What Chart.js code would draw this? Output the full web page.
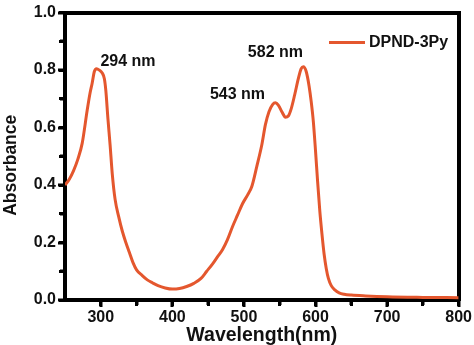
<!DOCTYPE html>
<html>
<head>
<meta charset="utf-8">
<script src="https://cdn.jsdelivr.net/npm/chart.js@4/dist/chart.umd.min.js"></script>
<style>
html,body{margin:0;padding:0;background:#fff;}
#wrap{position:relative;width:474px;height:345px;}
</style>
</head>
<body>
<div id="wrap"><canvas id="c" width="474" height="345"></canvas></div>
<script>
// ---- data ----
const wavelength = [250,256,262,268,274,281,285,288,291,294,298,302,305,307,310,313,316,320,325,330,335,340,345,350,358,365,372,380,390,400,410,420,430,440,448,456,463,470,477,484,491,498,505,511,518,525,530,535,540,544,548,553,558,562,566,571,576,580,583,587,591,594,597,600,603,606,609,612,615,618,622,627,633,640,650,670,700,750,800];
const absorbance = [0.40,0.42,0.45,0.49,0.545,0.66,0.72,0.755,0.795,0.805,0.80,0.79,0.77,0.73,0.63,0.54,0.44,0.35,0.29,0.24,0.20,0.165,0.13,0.105,0.085,0.07,0.06,0.05,0.042,0.038,0.04,0.047,0.058,0.075,0.10,0.125,0.15,0.175,0.21,0.255,0.295,0.335,0.365,0.395,0.465,0.54,0.61,0.655,0.68,0.686,0.678,0.655,0.636,0.64,0.665,0.715,0.77,0.805,0.812,0.795,0.745,0.69,0.62,0.52,0.41,0.31,0.23,0.16,0.11,0.075,0.05,0.035,0.025,0.02,0.017,0.014,0.011,0.009,0.008];
const seriesName = 'DPND-3Py';
const xTicks = [300,350,400,450,500,550,600,650,700,750,800];
const xTickLabels = ['300','','400','','500','','600','','700','','800'];
const yTicks = [0.0,0.1,0.2,0.3,0.4,0.5,0.6,0.7,0.8,0.9,1.0];
const yTickLabels = ['0.0','','0.2','','0.4','','0.6','','0.8','','1.0'];
const peakLabels = ['294 nm','543 nm','582 nm'];
const peakLabelX = [338,491,544];
const peakLabelY = [0.83,0.715,0.862];
const xTitle = 'Wavelength(nm)';
const yTitle = 'Absorbance';

const lineColor = '#E4572E';
const FONT = '"Liberation Sans", Arial, sans-serif';

const textPlugin = {
  id: 'texts',
  afterDraw(chart) {
    const {ctx, chartArea: a, scales: {x, y}} = chart;
    ctx.save();
    // tick marks drawn from the scales
    ctx.fillStyle = '#000';
    xTicks.forEach((v, i) => {
      const px = Math.round(x.getPixelForValue(v));
      ctx.fillRect(px - 1.5, a.bottom, 3, xTickLabels[i] ? 7 : 5);
    });
    yTicks.forEach((v, i) => {
      const py = Math.round(y.getPixelForValue(v));
      ctx.fillRect(a.left - (yTickLabels[i] ? 7 : 5), py - 1.5, yTickLabels[i] ? 7 : 5, 3);
    });
    // legend
    ctx.fillStyle = lineColor;
    ctx.fillRect(329, 41, 36, 3);
    ctx.fillStyle = '#111';
    ctx.font = 'bold 16px ' + FONT;
    ctx.textAlign = 'left';
    ctx.textBaseline = 'middle';
    ctx.fillText(seriesName, 369, 43);
    // peak labels
    ctx.textAlign = 'center';
    peakLabels.forEach((t, i) => ctx.fillText(t, x.getPixelForValue(peakLabelX[i]), y.getPixelForValue(peakLabelY[i])));
    // axis titles
    ctx.font = 'bold 19.5px ' + FONT;
    ctx.fillText(xTitle, (a.left + a.right) / 2, 336);
    ctx.translate(11, (a.top + a.bottom) / 2 + 9);
    ctx.rotate(-Math.PI / 2);
    ctx.font = 'bold 17.5px ' + FONT;
    ctx.fillText(yTitle, 0, 0);
    ctx.restore();
  }
};

const tickFont = {family: FONT, size: 16, weight: 'bold'};
const gridCommon = {drawOnChartArea: false, tickLength: 6, tickWidth: 3, tickColor: '#000'};
const borderCommon = {display: true, width: 4, color: '#000'};

new Chart(document.getElementById('c'), {
  type: 'line',
  data: {
    datasets: [{
      label: seriesName,
      data: wavelength.map((w, i) => ({x: w, y: absorbance[i]})),
      borderColor: lineColor,
      backgroundColor: lineColor,
      borderWidth: 3,
      pointRadius: 0,
      cubicInterpolationMode: 'monotone',
      fill: false
    }]
  },
  options: {
    responsive: false,
    animation: false,
    devicePixelRatio: 1,
    layout: {padding: {top: 0, right: 0, left: 0, bottom: 0}},
    plugins: {
      legend: {display: false},
      tooltip: {enabled: false}
    },
    scales: {
      x: {
        type: 'linear',
        min: 250, max: 800,
        afterBuildTicks(s) { s.ticks = xTicks.map(v => ({value: v})); },
        afterFit(s) { s.height = 45; },
        grid: gridCommon,
        border: borderCommon,
        ticks: {color: '#111', font: tickFont, padding: 2, maxRotation: 0, autoSkip: false,
                callback: (v, i) => xTickLabels[i]}
      },
      x2: {
        type: 'linear', position: 'top',
        min: 250, max: 800,
        afterFit(s) { s.height = 6; },
        grid: {display: false},
        border: borderCommon,
        ticks: {display: false}
      },
      y: {
        min: 0, max: 1.0,
        afterBuildTicks(s) { s.ticks = yTicks.map(v => ({value: v})); },
        afterFit(s) { s.width = 65; },
        grid: gridCommon,
        border: borderCommon,
        ticks: {color: '#111', font: tickFont, padding: 3, autoSkip: false,
                callback: (v, i) => yTickLabels[i]}
      },
      y2: {
        position: 'right',
        min: 0, max: 1.0,
        afterFit(s) { s.width = 15; },
        grid: {display: false},
        border: borderCommon,
        ticks: {display: false}
      }
    }
  },
  plugins: [textPlugin]
});
</script>
</body>
</html>
